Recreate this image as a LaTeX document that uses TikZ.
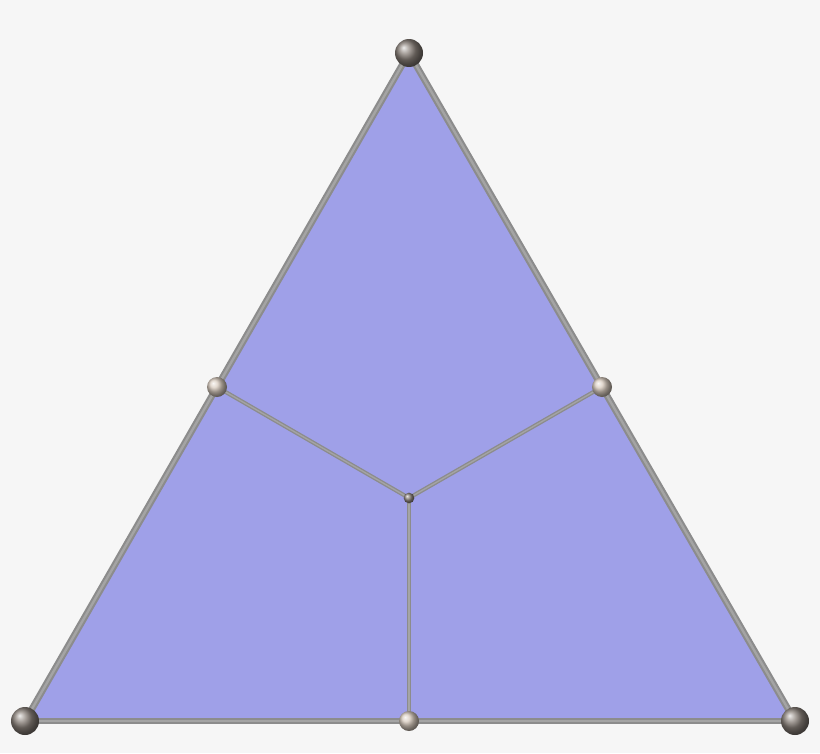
\documentclass[tikz,border=0pt]{standalone}
\usetikzlibrary{backgrounds}
\definecolor{bggray}{HTML}{F6F6F6}
\definecolor{facefill}{HTML}{9FA0E8}
\definecolor{tubegray}{HTML}{8C8C8C}
\definecolor{tubelight}{HTML}{A4A4A4}
\definecolor{vertball}{HTML}{8A817A}
\definecolor{midball}{HTML}{D8CBBE}
\begin{document}
\begin{tikzpicture}[x=0.75pt, y=-0.75pt,
  vertex/.style={circle, inner sep=0pt, minimum size=21pt, ball color=vertball},
  midpt/.style={circle, inner sep=0pt, minimum size=15pt, ball color=midball},
  centre/.style={circle, inner sep=0pt, minimum size=8pt, ball color=vertball},
  rim/.style={draw=tubegray, line width=5pt, line cap=round,
    postaction={draw=tubelight, line width=1.8pt}},
  spoke/.style={draw=tubegray, line width=3pt, line cap=round,
    postaction={draw=tubelight, line width=1pt}}]
\node[vertex] (top) at (409,53) {};
\node[vertex] (bl) at (25,721) {};
\node[vertex] (br) at (795,721) {};
\node[midpt] (ml) at (217,387) {};
\node[midpt] (mr) at (602,387) {};
\node[midpt] (mb) at (409,721) {};
\node[centre] (c) at (409,498) {};

\begin{scope}[on background layer]
\fill[bggray] (0,0) rectangle (820,753);
\fill[facefill] (top.center) -- (bl.center) -- (br.center) -- cycle;
% outer edges
\draw[rim] (top.center) -- (ml.center);
\draw[rim] (ml.center) -- (bl.center);
\draw[rim] (bl.center) -- (mb.center);
\draw[rim] (mb.center) -- (br.center);
\draw[rim] (br.center) -- (mr.center);
\draw[rim] (mr.center) -- (top.center);
% spokes to the centre
\draw[spoke] (ml) -- (c);
\draw[spoke] (mr) -- (c);
\draw[spoke] (mb) -- (c);
\end{scope}
\useasboundingbox (0,0) rectangle (820,753);
\end{tikzpicture}
\end{document}
